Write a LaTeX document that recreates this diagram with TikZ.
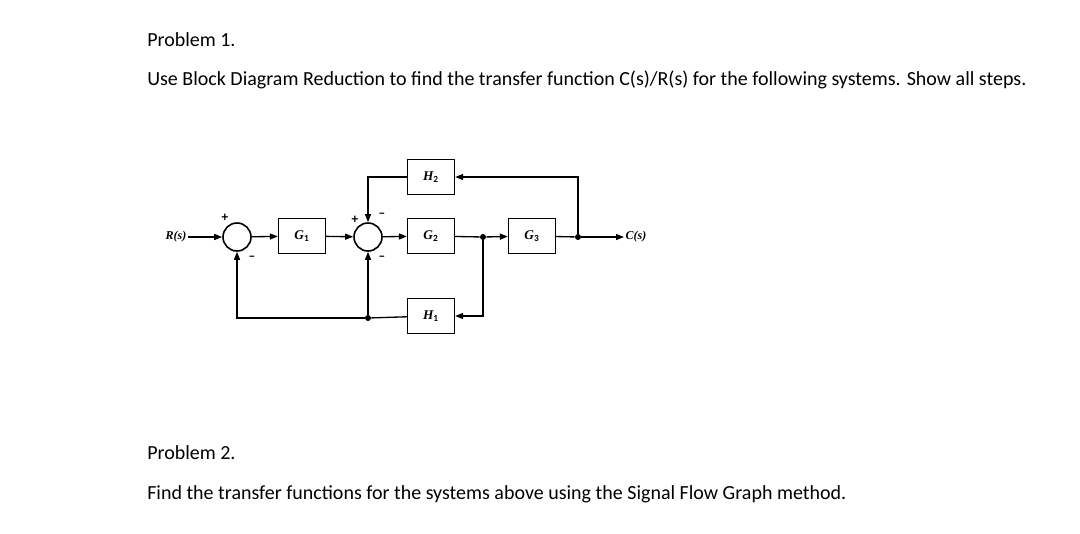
\documentclass[tikz,border=0pt]{standalone}
\usepackage{fontspec}
\setmainfont{Carlito}
\newfontfamily\diag{Liberation Serif}
\usetikzlibrary{arrows.meta}
\begin{document}
\begin{tikzpicture}[x=0.75pt,y=-0.75pt,
 blk/.style={draw,line width=1.2pt,minimum width=35pt,minimum height=26pt,inner sep=0pt,font=\diag\bfseries\itshape\normalsize},
 sum/.style={draw,circle,line width=1.2pt,minimum size=21pt,inner sep=0pt},
 ar/.style={-{Triangle[length=6pt,width=4.5pt]},line width=1pt},
 ln/.style={line width=1pt},
 dot/.style={circle,fill,inner sep=0pt,minimum size=4.5pt},
 sgn/.style={font=\bfseries\normalsize,inner sep=1pt},
 lab/.style={font=\diag\bfseries\itshape\small,inner sep=1pt},
 txt/.style={anchor=west,font=\fontsize{15pt}{17pt}\selectfont,inner sep=0pt}]
\useasboundingbox (0,0) rectangle (1080,533);
\node[txt] (p1) at (147,40) {Problem 1.};
\node[txt] (q1) at (147,80) {Use Block Diagram Reduction to find the transfer function C(s)/R(s) for the following systems. Show all steps.};
\node[txt] (p2) at (147,453) {Problem 2.};
\node[txt] (q2) at (147,494) {Find the transfer functions for the systems above using the Signal Flow Graph method.};

\node[lab,anchor=east] (R) at (188,237) {R(s)};
\node[sum] (s1) at (237,237) {};
\node[blk] (G1) at (302,236) {G$_{\mathbf 1}$};
\node[sum] (s2) at (368,237) {};
\node[blk] (G2) at (431,236) {G$_{\mathbf 2}$};
\node[blk] (G3) at (532,236) {G$_{\mathbf 3}$};
\node[blk] (H2) at (431,177) {H$_{\mathbf 2}$};
\node[blk] (H1) at (431,316) {H$_{\mathbf 1}$};
\node[dot] (j1) at (483,237) {};
\node[dot] (j2) at (578,237) {};
\node[dot] (j3) at (368,318) {};
\coordinate (ce) at (624,237);
\node[lab,anchor=west] (C) at (624,237) {C(s)};

\draw[ar] (R) -- (s1);
\draw[ar] (s1) -- (G1);
\draw[ar] (G1) -- (s2);
\draw[ar] (s2) -- (G2);
\draw[ln] (G2) -- (j1);
\draw[ar] (j1) -- (G3);
\draw[ln] (G3) -- (j2);
\draw[ar] (j2) -- (ce);
\draw[ar] (j2) |- (H2);
\draw[ar] (H2) -| (s2);
\draw[ar] (j1) |- (H1);
\draw[ln] (H1) -- (j3);
\draw[ar] (j3) -| (s1);
\draw[ar] (j3) -- (s2);

\node[sgn] at (225,218) {+};
\node[sgn] at (252,258) {--};
\node[sgn] at (355,220) {+};
\node[sgn] at (382,215) {--};
\node[sgn] at (382,258) {--};
\end{tikzpicture}
\end{document}
